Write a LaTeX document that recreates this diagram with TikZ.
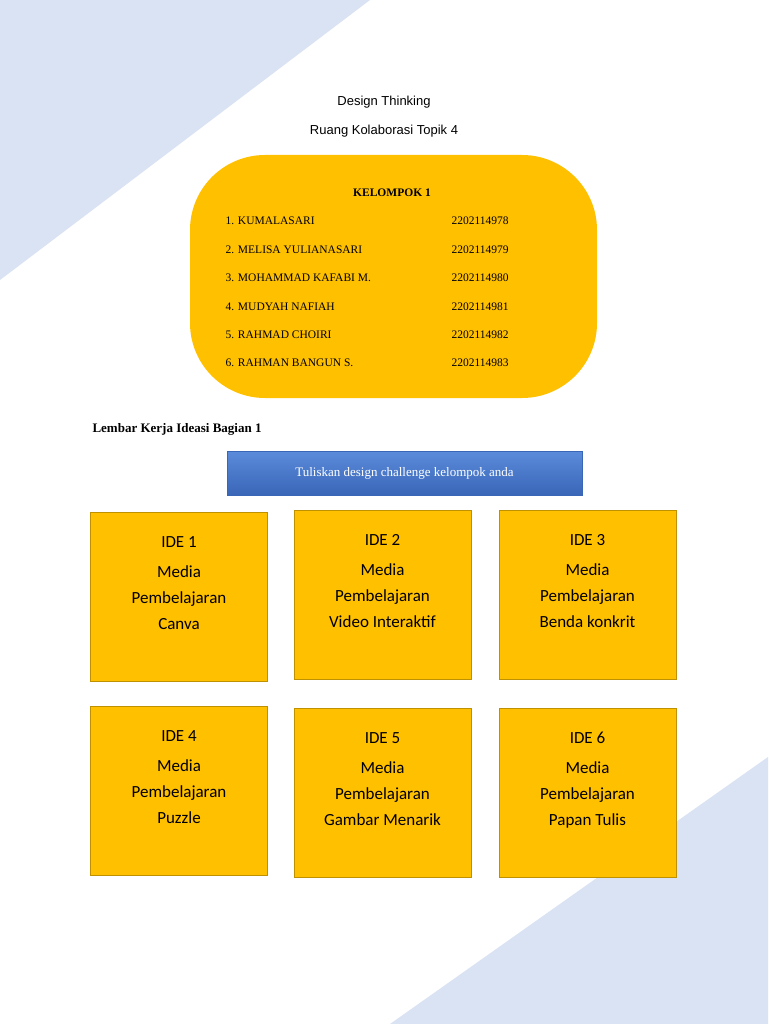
\documentclass[tikz,border=0pt]{standalone}
\usepackage{fontspec}
\setmainfont{Liberation Serif}
\newfontfamily\calfont{Carlito}
\newfontfamily\arsfont{Liberation Sans}
\definecolor{bgblue}{HTML}{DAE3F3}
\definecolor{gold}{HTML}{FFC000}
\definecolor{golddk}{HTML}{BF9000}
\definecolor{blue1}{HTML}{5B8BDB}
\definecolor{blue2}{HTML}{3A66B8}
\begin{document}
\begin{tikzpicture}[x=1pt,y=-1pt,
 idebox/.style={draw=golddk,fill=gold,line width=0.6pt,minimum width=177pt,minimum height=169pt,inner sep=0pt},
 idetext/.style={font=\calfont\fontsize{17}{26}\selectfont,align=center,anchor=north},
 lst/.style={font=\fontsize{11.5}{13}\selectfont,anchor=west}]
\useasboundingbox (0,0) rectangle (768,1024);
\fill[white] (0,0) rectangle (768,1024);
\fill[bgblue] (0,0) -- (370,0) -- (0,280) -- cycle;
\fill[bgblue] (768,757) -- (768,1024) -- (390,1024) -- cycle;
\node[font=\arsfont\fontsize{13}{15}\selectfont] (t1) at (384,102) {Design Thinking};
\node[font=\arsfont\fontsize{13}{15}\selectfont] (t2) at (384,131) {Ruang Kolaborasi Topik 4};
\node[fill=gold,rounded corners=75pt,minimum width=407pt,minimum height=243pt] (grp) at (393.5,276.5) {};
\node[font=\bfseries\fontsize{11.5}{13}\selectfont] (k) at (392,193) {KELOMPOK 1};
\foreach \i/\n/\m/\y in {1/KUMALASARI/2202114978/221,2/MELISA YULIANASARI/2202114979/250,3/MOHAMMAD KAFABI M./2202114980/278,4/MUDYAH NAFIAH/2202114981/307,5/RAHMAD CHOIRI/2202114982/335,6/RAHMAN BANGUN S./2202114983/363}{
 \node[lst] (n\i) at (222,\y) {\i. \n};
 \node[lst] (m\i) at (448,\y) {\m};
}
\node[font=\bfseries\fontsize{13}{15}\selectfont,anchor=west] (lk) at (89,429) {Lembar Kerja Ideasi Bagian 1};
\node[top color=blue1,bottom color=blue2,draw=blue2,minimum width=355pt,minimum height=44pt,text=white,font=\fontsize{13}{15}\selectfont] (ch) at (404.5,473) {Tuliskan design challenge kelompok anda};
\foreach \k/\x/\y/\a in {1/179/596.5/Canva,2/382.5/595/Video Interaktif,3/587.5/595/Benda konkrit,4/179/790.5/Puzzle,5/382.5/793/Gambar Menarik,6/587.5/792.5/Papan Tulis}{
 \node[idebox] (b\k) at (\x,\y) {};
 \node[idetext] (tx\k) at ([yshift=-21pt]b\k.north) {IDE \k\\[4pt]Media\\Pembelajaran\\\a};
}
\end{tikzpicture}
\end{document}
